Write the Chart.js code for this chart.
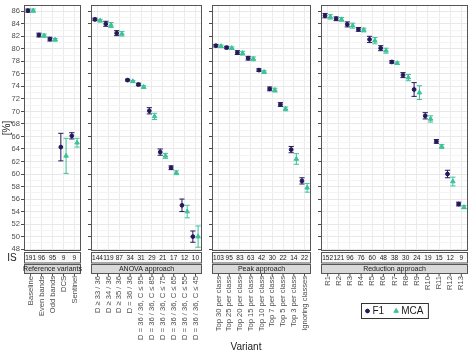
<!DOCTYPE html>
<html>
<head>
<meta charset="utf-8">
<script src="https://cdn.jsdelivr.net/npm/chart.js@4.4.1/dist/chart.umd.min.js"></script>
<style>
  body { margin: 0; background: #fff; }
  #wrap { position: relative; width: 474px; height: 358px; font-family: 'Liberation Sans', Arial, sans-serif; }
  #wrap canvas { position: absolute; top: 0; }
  #xtitle { position: absolute; left: 196px; width: 100px; top: 341px; text-align: center; font-size: 10px; line-height: 12px; color: #1a1a1a; }
</style>
</head>
<body>
<div id="wrap">
  <canvas id="c1" width="86" height="358" style="left:0px"></canvas>
  <canvas id="c2" width="121" height="358" style="left:86px"></canvas>
  <canvas id="c3" width="109" height="358" style="left:207px"></canvas>
  <canvas id="c4" width="157" height="358" style="left:316px"></canvas>
  <div id="xtitle">Variant</div>
</div>
<script>
const refLabels = ['Baseline', 'Even bands', 'Odd bands', 'DCS', 'Sentinel']
const refIS = [191, 96, 95, 9, 9]
const refF1 = [86.1, 82.2, 81.55, 64.3, 66.1]
const refF1Err = [0.25, 0.3, 0.3, 2.2, 0.5]
const refMCA = [86.1, 82.1, 81.45, 62.9, 65.0]
const refMCAErr = [0.25, 0.25, 0.2, 2.8, 0.7]

const anovaLabels = ['D ≥ 33 / 36', 'D ≥ 34 / 36', 'D ≥ 35 / 36', 'D = 36 / 36', 'D = 36 / 36, C ≤ 95', 'D = 36 / 36, C ≤ 85',
  'D = 36 / 36, C ≤ 75', 'D = 36 / 36, C ≤ 65', 'D = 36 / 36, C ≤ 55', 'D = 36 / 36, C ≤ 45']
const anovaIS = [144, 119, 87, 34, 31, 29, 21, 17, 12, 10]
const anovaF1 = [84.7, 84.0, 82.5, 75.0, 74.3, 70.1, 63.5, 61.0, 55.0, 50.0]
const anovaF1Err = [0.2, 0.4, 0.4, 0.15, 0.2, 0.5, 0.5, 0.3, 1.0, 0.9]
const anovaMCA = [84.5, 83.8, 82.4, 74.8, 73.9, 69.2, 62.9, 60.2, 54.0, 50.0]
const anovaMCAErr = [0.2, 0.4, 0.35, 0.15, 0.2, 0.5, 0.4, 0.3, 1.0, 1.7]

const peakLabels = ['Top 30 per class', 'Top 25 per class', 'Top 20 per class', 'Top 15 per class', 'Top 10 per class',
  'Top 7 per class', 'Top 5 per class', 'Top 3 per class', 'Ignoring classes']
const peakIS = [103, 95, 83, 63, 42, 30, 22, 14, 22]
const peakF1 = [80.5, 80.2, 79.4, 78.5, 76.6, 73.6, 71.1, 63.9, 58.9]
const peakF1Err = [0.2, 0.2, 0.3, 0.3, 0.2, 0.3, 0.3, 0.5, 0.5]
const peakMCA = [80.4, 80.1, 79.3, 78.4, 76.3, 73.4, 70.4, 62.4, 57.8]
const peakMCAErr = [0.2, 0.2, 0.3, 0.3, 0.2, 0.3, 0.3, 0.85, 0.7]

const redLabels = ['R1', 'R2', 'R3', 'R4', 'R5', 'R6', 'R7', 'R8', 'R9', 'R10', 'R11', 'R12', 'R13']
const redIS = [152, 121, 96, 76, 60, 48, 38, 30, 24, 19, 15, 12, 9]
const redF1 = [85.3, 84.8, 83.9, 83.1, 81.5, 80.1, 77.9, 75.8, 73.5, 69.3, 65.2, 60.0, 55.2]
const redF1Err = [0.35, 0.3, 0.4, 0.3, 0.5, 0.4, 0.2, 0.4, 1.1, 0.5, 0.3, 0.6, 0.3]
const redMCA = [85.1, 84.7, 83.7, 83.0, 81.3, 79.7, 77.7, 75.4, 73.0, 68.8, 64.4, 58.8, 54.7]
const redMCAErr = [0.35, 0.3, 0.4, 0.3, 0.5, 0.4, 0.2, 0.5, 1.1, 0.5, 0.3, 0.7, 0.25]

const yTicks = []
for (let v = 48; v <= 86; v++) yTicks.push(v)

const F1_COLOR = '#22185a'
const MCA_COLOR = '#3cc29a'
const FONT = "'Liberation Sans', Arial, sans-serif"
const DODGE = 0.24

// error bars, panel frame, IS row, strip and legend
const facetPlugin = {
  id: 'facet',
  beforeDatasetsDraw(chart) {
    const { ctx, scales: { x, y } } = chart
    ctx.save()
    ctx.lineWidth = 1
    chart.data.datasets.forEach(ds => {
      ctx.strokeStyle = ds.borderColor
      ds.data.forEach((p, i) => {
        const px = x.getPixelForValue(p.x)
        const top = y.getPixelForValue(p.y + ds.err[i])
        const bot = y.getPixelForValue(p.y - ds.err[i])
        ctx.beginPath()
        ctx.moveTo(px, top); ctx.lineTo(px, bot)
        ctx.moveTo(px - 2.6, top); ctx.lineTo(px + 2.6, top)
        ctx.moveTo(px - 2.6, bot); ctx.lineTo(px + 2.6, bot)
        ctx.stroke()
      })
    })
    ctx.restore()
  },
  afterDraw(chart, args, opts) {
    const { ctx, chartArea: a, scales: { x } } = chart
    ctx.save()
    ctx.lineWidth = 1
    ctx.strokeStyle = '#555'
    ctx.strokeRect(a.left + 0.5, a.top + 0.5, a.right - a.left - 1, a.bottom - a.top - 1)

    const w = a.right - a.left - 1
    // IS row
    const isTop = a.bottom + 1.5
    ctx.fillStyle = '#f7f7f7'
    ctx.fillRect(a.left + 0.5, isTop, w, 10.5)
    ctx.strokeRect(a.left + 0.5, isTop, w, 10.5)
    ctx.fillStyle = '#1a1a1a'
    ctx.font = '6.5px ' + FONT
    ctx.textAlign = 'center'
    ctx.textBaseline = 'middle'
    opts.is.forEach((v, i) => ctx.fillText(String(v), x.getPixelForValue(i), isTop + 5.5))

    // strip
    const stTop = isTop + 12
    ctx.fillStyle = '#d9d9d9'
    ctx.fillRect(a.left + 0.5, stTop, w, 9)
    ctx.strokeRect(a.left + 0.5, stTop, w, 9)
    ctx.fillStyle = '#1a1a1a'
    ctx.font = '7px ' + FONT
    ctx.fillText(opts.title, (a.left + a.right) / 2, stTop + 4.8)

    // little tick marks under the strip
    ctx.strokeStyle = '#4d4d4d'
    opts.is.forEach((v, i) => {
      const px = x.getPixelForValue(i)
      ctx.beginPath(); ctx.moveTo(px, stTop + 9.5); ctx.lineTo(px, stTop + 12); ctx.stroke()
    })

    if (opts.isLabel) {
      ctx.font = '10px ' + FONT
      ctx.fillStyle = '#1a1a1a'
      ctx.fillText('IS', 12, isTop + 5.5)
    }

    if (opts.legend) {
      ctx.font = '10px ' + FONT
      ctx.textAlign = 'left'
      const items = chart.data.datasets
      let total = 0
      items.forEach(ds => { total += 4 + 4 + ctx.measureText(ds.label).width })
      total += 8 + 9
      const bx = Math.round((a.left + a.right) / 2 - total / 2) + 0.5
      const by = 303.5, bh = 15
      ctx.strokeStyle = '#333'
      ctx.strokeRect(bx, by, total, bh)
      let xx = bx + 6
      items.forEach(ds => {
        ctx.fillStyle = ds.backgroundColor
        ctx.strokeStyle = ds.borderColor
        Chart.helpers.drawPoint(ctx, { pointStyle: ds.pointStyle, radius: ds.pointRadius, borderWidth: 1, rotation: 0 }, xx, by + bh / 2)
        ctx.fillStyle = '#1a1a1a'
        ctx.fillText(ds.label, xx + 5, by + bh / 2 + 0.5)
        xx += 5 + ctx.measureText(ds.label).width + 12
      })
    }
    ctx.restore()
  }
}

function makePanel(id, labels, isVals, title, f1, f1Err, mca, mcaErr, extra) {
  const first = extra.first
  return new Chart(document.getElementById(id), {
    type: 'scatter',
    data: {
      datasets: [
        {
          label: 'F1',
          data: f1.map((v, i) => ({ x: i - DODGE, y: v })),
          err: f1Err,
          pointStyle: 'circle', pointRadius: 1.9,
          backgroundColor: F1_COLOR, borderColor: F1_COLOR, borderWidth: 1
        },
        {
          label: 'MCA',
          data: mca.map((v, i) => ({ x: i + DODGE, y: v })),
          err: mcaErr,
          pointStyle: 'triangle', pointRadius: 2.6,
          backgroundColor: MCA_COLOR, borderColor: MCA_COLOR, borderWidth: 1
        }
      ]
    },
    options: {
      responsive: false,
      animation: false,
      layout: { padding: { top: 3, left: first ? 0 : 1, right: 1, bottom: extra.legend ? 0 : 0 } },
      plugins: {
        legend: { display: false },
        tooltip: { enabled: false },
        facet: { is: isVals, title: title, legend: !!extra.legend, isLabel: first }
      },
      scales: {
        x: {
          type: 'linear',
          min: -0.6,
          max: labels.length - 0.4,
          afterBuildTicks: s => { s.ticks = labels.map((_, i) => ({ value: i })) },
          afterFit: s => { s.height = 107; s.paddingLeft = 0; s.paddingRight = 0 },
          border: { display: false },
          grid: { color: '#ebebeb', lineWidth: 1, drawTicks: false },
          ticks: {
            autoSkip: false, minRotation: 90, maxRotation: 90, padding: 25,
            color: '#4d4d4d', font: { family: FONT, size: 7.6 },
            callback: v => labels[v]
          }
        },
        y: {
          min: 47.7,
          max: 87.0,
          afterBuildTicks: s => { s.ticks = yTicks.map(v => ({ value: v })) },
          afterFit: s => { s.width = first ? 24 : 0; s.paddingTop = 0; s.paddingBottom = 0 },
          border: { display: false },
          grid: {
            color: c => (c.tick && c.tick.value % 2 === 0) ? '#e8e8e8' : '#f4f4f4',
            lineWidth: 1,
            drawTicks: first,
            tickLength: 3,
            tickColor: c => (c.tick && c.tick.value % 2 === 0) ? '#4d4d4d' : 'rgba(0,0,0,0)'
          },
          title: {
            display: first, text: '[%]', color: '#1a1a1a',
            font: { family: FONT, size: 10 }, padding: { top: 1.5, bottom: 0 }
          },
          ticks: {
            display: first, autoSkip: false, padding: 1,
            color: '#4d4d4d', font: { family: FONT, size: 7.6 },
            callback: v => v % 2 === 0 ? String(v) : ''
          }
        }
      }
    },
    plugins: [facetPlugin]
  })
}

makePanel('c1', refLabels, refIS, 'Reference variants', refF1, refF1Err, refMCA, refMCAErr, { first: true })
makePanel('c2', anovaLabels, anovaIS, 'ANOVA approach', anovaF1, anovaF1Err, anovaMCA, anovaMCAErr, {})
makePanel('c3', peakLabels, peakIS, 'Peak approach', peakF1, peakF1Err, peakMCA, peakMCAErr, {})
makePanel('c4', redLabels, redIS, 'Reduction approach', redF1, redF1Err, redMCA, redMCAErr, { legend: true })
</script>
</body>
</html>
